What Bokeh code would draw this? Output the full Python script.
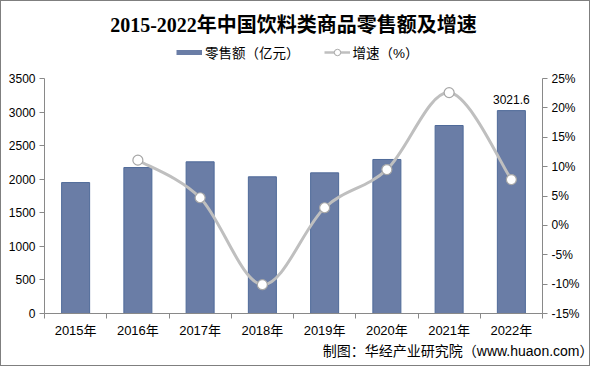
from bokeh.plotting import figure
from bokeh.models import (Range1d, LinearAxis, FixedTicker, PrintfTickFormatter,
                          Legend, LegendItem, Title, ColumnDataSource)
from bokeh.core.properties import value
from bokeh.embed import file_html
from bokeh.resources import INLINE
import numpy as np

years = ["2015年", "2016年", "2017年", "2018年", "2019年", "2020年", "2021年", "2022年"]
sales = [1950, 2174, 2259, 2036, 2095, 2294, 2800, 3021.6]
growth_years = ["2016年", "2017年", "2018年", "2019年", "2020年", "2021年", "2022年"]
growth = [11.1, 4.7, -10.1, 3.0, 9.5, 22.6, 7.8]
left_ticks = [0, 500, 1000, 1500, 2000, 2500, 3000, 3500]
right_ticks = [-15, -10, -5, 0, 5, 10, 15, 20, 25]

FONT = "Liberation Sans, Arial, Noto Sans CJK SC"
BAR_FILL = "#6A7DA6"
BAR_LINE = "#4F6A99"
LINE_COL = "#BFBFBF"
AXIS_COL = "#898989"

# layout (pixels): axis span 235 px, frame extends 40 px above the top tick to host the legend
AXIS_PX = 235
EXTRA_PX = 40
frame_scale = (AXIS_PX + EXTRA_PX) / AXIS_PX
y_lo, y_hi = left_ticks[0], left_ticks[-1]
r_lo, r_hi = right_ticks[0], right_ticks[-1]

p = figure(width=590, height=366, output_backend="svg", toolbar_location=None,
           x_range=Range1d(0, len(years)),
           y_range=Range1d(y_lo, y_lo + (y_hi - y_lo) * frame_scale),
           min_border_left=43, min_border_right=49, min_border_top=37, min_border_bottom=54)
p.styles = {"border": "1px solid #7f7f7f"}
p.outline_line_color = None
p.xgrid.visible = False
p.ygrid.visible = False
p.extra_y_ranges = {"pct": Range1d(r_lo, r_lo + (r_hi - r_lo) * frame_scale)}

xc = [i + 0.5 for i in range(len(years))]
src = ColumnDataSource(dict(x=xc, top=sales))
bars = p.vbar(x="x", top="top", width=0.45, source=src, fill_color=BAR_FILL,
              line_color=BAR_LINE, line_width=1)

# smoothed line (Catmull-Rom -> cubic bezier) through growth points
gx = np.array([years.index(y) + 0.5 for y in growth_years])
gy = np.array(growth, dtype=float)
px = np.concatenate([[gx[0]], gx, [gx[-1]]])
py = np.concatenate([[gy[0]], gy, [gy[-1]]])
n = len(gx)
bez = dict(x0=[], y0=[], x1=[], y1=[], cx0=[], cy0=[], cx1=[], cy1=[])
for i in range(n - 1):
    a, b, c, d = i, i + 1, i + 2, i + 3
    bez["x0"].append(px[b]); bez["y0"].append(py[b])
    bez["x1"].append(px[c]); bez["y1"].append(py[c])
    bez["cx0"].append(px[b] + (px[c] - px[a]) / 6); bez["cy0"].append(py[b] + (py[c] - py[a]) / 6)
    bez["cx1"].append(px[c] - (px[d] - px[b]) / 6); bez["cy1"].append(py[c] - (py[d] - py[b]) / 6)
p.bezier(x0="x0", y0="y0", x1="x1", y1="y1", cx0="cx0", cy0="cy0", cx1="cx1", cy1="cy1",
         source=ColumnDataSource(bez), line_color=LINE_COL, line_width=3, y_range_name="pct")
p.scatter(x=gx, y=gy, size=10, marker="circle", fill_color="white", line_color="#A6A6A6",
          line_width=1.2, y_range_name="pct")

# legend swatch renderers (kept outside the visible x range)
off = dict(x=[-5, -4], y=[0, 0])
leg_bar = p.line(x="x", y="y", source=ColumnDataSource(off), line_color=BAR_FILL, line_width=5)
leg_line = p.line(x="x", y="y", source=ColumnDataSource(off), line_color=LINE_COL, line_width=2.5)
leg_pt = p.scatter(x="x", y="y", source=ColumnDataSource(off), marker="circle",
                   fill_color="white", line_color="#A6A6A6")

# data label for last bar
p.text(x=[xc[-1]], y=[sales[-1]], text=[f"{sales[-1]:.1f}"], text_align="center",
       text_baseline="bottom", y_offset=-7, text_font=value(FONT), text_font_size="12px",
       text_color="#000000")

# axes
ax = p.xaxis[0]
ax.ticker = FixedTicker(ticks=xc, minor_ticks=list(range(len(years) + 1)))
ax.major_label_overrides = {x: y for x, y in zip(xc, years)}
ax.major_tick_out = 0
ax.major_tick_in = 0
ax.minor_tick_out = 5
ax.minor_tick_in = 0
ax.minor_tick_line_color = AXIS_COL
ax.axis_line_color = AXIS_COL
ax.major_label_standoff = 4
ax.major_label_text_font = FONT
ax.major_label_text_font_size = "13px"
ax.major_label_text_color = "#000000"

ay = p.yaxis[0]
ay.ticker = FixedTicker(ticks=left_ticks)
ay.bounds = (y_lo, y_hi)
ay.minor_tick_line_color = None
ay.major_tick_out = 5
ay.major_tick_in = 0
ay.major_tick_line_color = AXIS_COL
ay.axis_line_color = AXIS_COL
ay.major_label_standoff = 4
ay.major_label_text_font = FONT
ay.major_label_text_font_size = "12px"
ay.major_label_text_color = "#000000"

ar = LinearAxis(y_range_name="pct", ticker=FixedTicker(ticks=right_ticks),
                formatter=PrintfTickFormatter(format="%d%%"), bounds=(r_lo, r_hi))
ar.minor_tick_line_color = None
ar.major_tick_out = 5
ar.major_tick_in = 0
ar.major_tick_line_color = AXIS_COL
ar.axis_line_color = AXIS_COL
ar.major_label_standoff = 4
ar.major_label_text_font = FONT
ar.major_label_text_font_size = "12px"
ar.major_label_text_color = "#000000"
p.add_layout(ar, "right")

# legend inside the (extended) frame, above the top tick
legend = Legend(items=[LegendItem(label="零售额（亿元）", renderers=[leg_bar]),
                       LegendItem(label="增速（%）", renderers=[leg_line, leg_pt])],
                location=(132, 251), orientation="horizontal", glyph_width=26,
                glyph_height=16, label_standoff=3, padding=0, margin=0, spacing=24,
                border_line_color=None, background_fill_alpha=0,
                label_text_font=FONT, label_text_font_size="13.5px", label_text_color="#000000")
p.add_layout(legend, "center")

# title
p.title.text = "2015-2022年中国饮料类商品零售额及增速"
p.title.align = "center"
p.title.text_font = "Liberation Serif, Noto Sans CJK SC"
p.title.text_font_style = "bold"
p.title.text_font_size = "20px"
p.title.text_color = "#000000"
p.title.standoff = 6

# source note below
p.add_layout(Title(text="制图：华经产业研究院（www.huaon.com）", align="right", offset=-51,
                   standoff=0, text_font=FONT, text_font_style="normal",
                   text_font_size="14px", text_color="#000000"), "below")

open("out.html", "w").write(file_html(p, INLINE))
